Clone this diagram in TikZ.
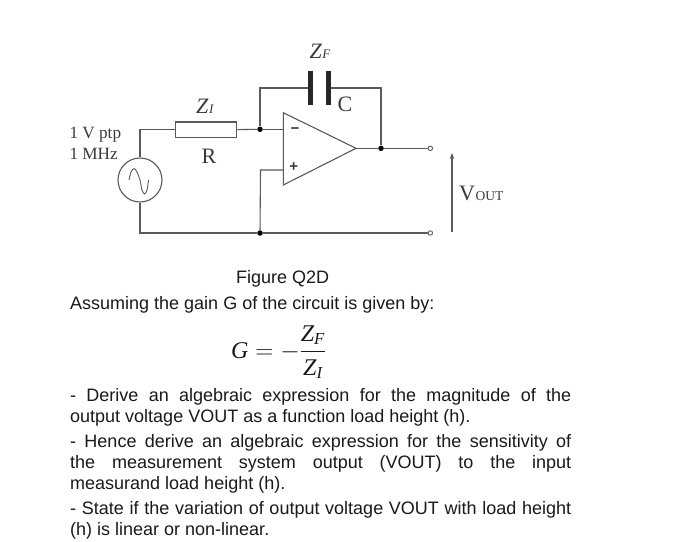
\documentclass[tikz,border=0pt]{standalone}
\usepackage{amsmath}
\usepackage{fontspec}
\setmainfont{Liberation Sans}
\newfontfamily\seriffont{Liberation Serif}
\usetikzlibrary{arrows.meta}
\definecolor{wire}{HTML}{5A5A5A}
\definecolor{lbl}{HTML}{3A3A3A}
\definecolor{body}{HTML}{1A1A1A}
\newcommand{\mi}[1]{\text{\seriffont\itshape #1}}
\tikzset{
  wire/.style={draw=wire, line width=1.1pt},
  dot/.style={circle, fill=black, inner sep=0pt, minimum size=5.5pt},
  term/.style={circle, draw=wire, fill=white, line width=0.9pt, inner sep=0pt, minimum size=4.5pt},
  plate/.style={draw=black!85, line width=5pt},
  ckt/.style={text=lbl, inner sep=0pt, font=\seriffont\fontsize{17.2}{20}\selectfont},
  big/.style={text=lbl, inner sep=0pt, font=\seriffont\fontsize{22}{24}\selectfont},
  para/.style={text=body, inner sep=0pt, anchor=north west, text width=501pt, align=justify,
    font=\fontsize{18}{21}\selectfont},
  line/.style={text=body, inner sep=0pt, anchor=base west, font=\fontsize{18}{21}\selectfont}
}
\begin{document}
\begin{tikzpicture}[x=1pt,y=-1pt]
  \useasboundingbox (0,0) rectangle (700,541);
  \fill[white] (0,0) rectangle (700,541);

  % junctions and terminals
  \node[dot] (nin) at (260,129.3) {};
  \node[dot] (gnd) at (260,233) {};
  \node[dot] (nout) at (381,148.3) {};
  \node[term] (tout) at (430.3,148.3) {};
  \node[term] (tgnd) at (430.3,233) {};

  % source and resistor
  \node[circle, wire, fill=white, minimum size=44pt, inner sep=0pt] (src) at (140,180) {};
  \node[rectangle, wire, minimum width=61pt, minimum height=15.3pt, inner sep=0pt] (res) at (206.2,129.6) {};
  \draw[wire] (src.north) |- (res.west);
  \draw[wire] (res.east) -- (nin);
  \draw[wire] (src.south) |- (gnd);
  \draw[wire] (gnd) -- (tgnd);
  \draw[wire, line width=0.9pt] plot[smooth] coordinates {(129,180) (131,172) (134,168.5) (137,172) (140,180) (142,190) (144.5,194) (147,190) (148.5,180)};

  % op amp
  \coordinate (oa1) at (283.3,112.7);
  \coordinate (oa2) at (283.3,185);
  \coordinate (oa3) at (356,148.3);
  \coordinate (ominus) at (283.3,129.3);
  \coordinate (oplus) at (283.3,170);
  \coordinate (opos) at (260.5,170);
  \draw[wire, line join=miter] (oa1) -- (oa3) -- (oa2) -- cycle;
  \draw[wire] (nin) -- (ominus);
  \draw[wire] (oplus) -- (opos) -- (gnd);
  \draw[wire] (oa3) -- (nout);
  \draw[wire] (nout) -- (tout);
  \node[inner sep=0pt, text=lbl, font=\bfseries\fontsize{15}{15}\selectfont] (mn) at (295,130.5) {\textminus};
  \node[inner sep=0pt, text=lbl, font=\bfseries\fontsize{15}{15}\selectfont] (pl) at (293.7,167.3) {+};

  % feedback capacitor
  \coordinate (capl) at (310.3,88);
  \coordinate (capr) at (328.3,88);
  \coordinate (fbl) at (260,88);
  \coordinate (fbr) at (381,88);
  \draw[wire] (nin) -- (fbl) -- (capl);
  \draw[wire] (capr) -- (fbr) -- (nout);
  \draw[plate] (310.3,71.3) -- (310.3,104.7);
  \draw[plate] (328.3,71.3) -- (328.3,104.7);

  % output arrow
  \coordinate (va) at (452,232);
  \coordinate (vb) at (452,153);
  \draw[wire, -{Stealth[length=6pt,width=4.5pt]}] (va) -- (vb);

  % circuit labels
  \node[ckt, anchor=base west] (l1) at (69.3,138) {1 V ptp};
  \node[ckt, anchor=base west] (l2) at (69.3,159) {1 MHz};
  \node[big, anchor=base] (zi) at (205,113) {\textit{Z}\kern0.5pt{\fontsize{13}{13}\selectfont\textit{I}}};
  \node[big, anchor=base] (rr) at (209,163) {R};
  \node[big, anchor=base] (zf) at (320,58) {\textit{Z}\kern0.5pt{\fontsize{13}{13}\selectfont\textit{F}}};
  \node[big, anchor=base] (cc) at (345,111) {C};
  \node[text=lbl, inner sep=0pt, anchor=base west, font=\seriffont\fontsize{22}{24}\selectfont] (vo) at (459,200)
    {V\kern0.5pt{\fontsize{13.5}{16}\selectfont OUT}};

  % question text
  \node[line] (cap) at (236,283) {Figure Q2D};
  \node[line] (ass) at (70,309) {Assuming the gain G of the circuit is given by:};
  \node[text=body, inner sep=0pt, anchor=base west, font=\fontsize{24}{26}\selectfont] (eq) at (231,358)
    {$\mi{G}=-\dfrac{\mi{Z}_{\mi{F}}\rule[-3pt]{0pt}{5pt}}{\rule{0pt}{19pt}\mi{Z}_{\mi{I}}}$};
  \node[para] (p1) at (70,388) {- Derive an algebraic expression for the magnitude of the\linebreak output voltage VOUT as a function load height (h).};
  \node[para] (p2) at (70,434) {- Hence derive an algebraic expression for the sensitivity of\linebreak the measurement system output (VOUT) to the input\linebreak measurand load height (h).};
  \node[para] (p3) at (70,501) {- State if the variation of output voltage VOUT with load height\linebreak (h) is linear or non-linear.};
\end{tikzpicture}
\end{document}
